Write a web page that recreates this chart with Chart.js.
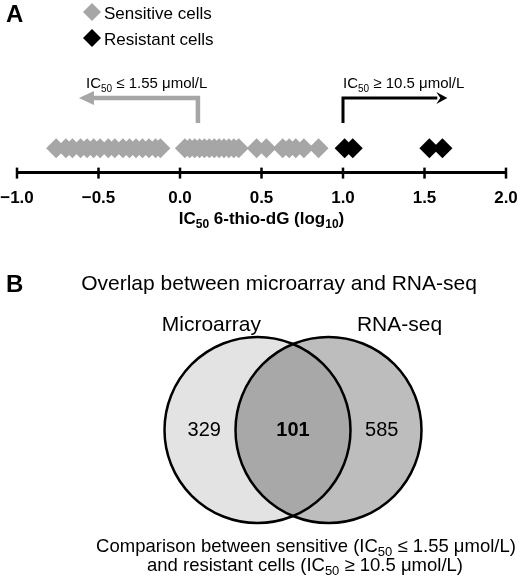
<!DOCTYPE html>
<html>
<head>
<meta charset="utf-8">
<script src="https://cdn.jsdelivr.net/npm/chart.js@4.4.1/dist/chart.umd.min.js"></script>
<style>
  html, body { margin: 0; padding: 0; background: #fff; }
  #wrap { position: relative; width: 520px; height: 588px; }
  canvas { position: absolute; left: 0; }
  #chartA { top: 0; }
  #chartB { top: 240px; }
</style>
</head>
<body>
<div id="wrap">
  <canvas id="chartA" width="520" height="240"></canvas>
  <canvas id="chartB" width="520" height="348"></canvas>
</div>
<script>
// datos
const seriesNames = ['Sensitive cells', 'Resistant cells'];
const sensitiveLog = [-0.76, -0.70, -0.66, -0.61, -0.57, -0.53, -0.49, -0.44, -0.40, -0.35,
  -0.31, -0.27, -0.23, -0.19, -0.15, -0.12, 0.03, 0.06, 0.09, 0.12, 0.15, 0.18, 0.21,
  0.24, 0.27, 0.30, 0.33, 0.36, 0.47, 0.53, 0.63, 0.67, 0.71, 0.76, 0.85];
const resistantLog = [1.01, 1.06, 1.53, 1.61];
const xTicks = [-1.0, -0.5, 0.0, 0.5, 1.0, 1.5, 2.0];
// flechas de umbral: desde -> hasta (log10)
const arrowFrom = [0.11, 1.0];
const arrowTo = [-0.62, 1.64];
const arrowText = [['≤ 1.55 μmol/L'], ['≥ 10.5 μmol/L']];

const vennSets = ['Microarray', 'RNA-seq'];
const vennCounts = [329, 101, 585]; // solo microarray, ambos, solo RNA-seq

const FONT = "'Liberation Sans', Arial, sans-serif";

// texto con subindices
function richWidth(ctx, parts) {
  let w = 0;
  parts.forEach(p => {
    ctx.font = (p.bold ? 'bold ' : '') + p.size + 'px ' + FONT;
    w += ctx.measureText(p.t).width;
  });
  return w;
}
function drawRich(ctx, parts, x, y, align) {
  const w = richWidth(ctx, parts);
  let cx = align === 'center' ? x - w / 2 : x;
  ctx.textAlign = 'left';
  ctx.textBaseline = 'alphabetic';
  parts.forEach(p => {
    ctx.font = (p.bold ? 'bold ' : '') + p.size + 'px ' + FONT;
    ctx.fillText(p.t, cx, y + (p.dy || 0));
    cx += ctx.measureText(p.t).width;
  });
}
function ic50(size, rest, bold) {
  return [
    { t: 'IC', size: size, bold: bold },
    { t: '50', size: Math.round(size * 0.68), bold: bold, dy: 4 },
    { t: rest, size: size, bold: bold }
  ];
}

// ---------- Panel A ----------
const panelA = {
  id: 'panelA',
  afterDraw(chart) {
    const ctx = chart.ctx;
    const xs = chart.scales.x;
    const axisY = chart.chartArea.bottom;
    ctx.save();
    ctx.fillStyle = '#000';
    // letra del panel
    ctx.font = 'bold 24px ' + FONT;
    ctx.textBaseline = 'alphabetic';
    ctx.fillText('A', 6, 22);

    // leyenda
    chart.data.datasets.forEach((ds, i) => {
      const cy = 12 + i * 26;
      ctx.fillStyle = ds.backgroundColor;
      ctx.beginPath();
      ctx.moveTo(92, cy - 9); ctx.lineTo(101, cy); ctx.lineTo(92, cy + 9); ctx.lineTo(83, cy);
      ctx.closePath(); ctx.fill();
      ctx.fillStyle = '#000';
      ctx.font = '17px ' + FONT;
      ctx.textBaseline = 'middle';
      ctx.fillText(ds.label, 104, cy + 2);
    });

    // marcas del eje que cruzan la linea
    ctx.strokeStyle = '#000';
    ctx.lineWidth = 2.5;
    xs.ticks.forEach(t => {
      const px = xs.getPixelForValue(t.value);
      ctx.beginPath();
      ctx.moveTo(px, axisY - 5); ctx.lineTo(px, axisY + 6);
      ctx.stroke();
    });

    // flechas
    const colors = ['#a6a6a6', '#000'];
    const widths = [4.5, 3];
    arrowFrom.forEach((v, i) => {
      const x0 = xs.getPixelForValue(v);
      const x1 = xs.getPixelForValue(arrowTo[i]);
      const dir = x1 < x0 ? -1 : 1;
      const top = 98, bottom = 123;
      ctx.strokeStyle = colors[i];
      ctx.fillStyle = colors[i];
      ctx.lineWidth = widths[i];
      ctx.lineJoin = 'miter';
      ctx.beginPath();
      ctx.moveTo(x0, bottom); ctx.lineTo(x0, top); ctx.lineTo(x1 - dir * 10, top);
      ctx.stroke();
      const hl = i === 0 ? 15 : 11, hw = i === 0 ? 7 : 6;
      ctx.beginPath();
      ctx.moveTo(x1, top);
      ctx.lineTo(x1 - dir * hl, top - hw);
      if (i === 1) ctx.lineTo(x1 - dir * (hl - 4), top);
      ctx.lineTo(x1 - dir * hl, top + hw);
      ctx.closePath(); ctx.fill();
      // etiqueta
      ctx.fillStyle = '#000';
      const lx = i === 0 ? 86 : x0;
      drawRich(ctx, ic50(15, ' ' + arrowText[i][0], false), lx, 88, 'left');
    });

    // titulo del eje x
    drawRich(ctx, [
      { t: 'IC', size: 17, bold: true },
      { t: '50', size: 12, bold: true, dy: 4 },
      { t: ' 6-thio-dG (log', size: 17, bold: true },
      { t: '10', size: 12, bold: true, dy: 4 },
      { t: ')', size: 17, bold: true }
    ], (chart.chartArea.left + chart.chartArea.right) / 2, 224, 'center');
    ctx.restore();
  }
};

new Chart(document.getElementById('chartA'), {
  type: 'scatter',
  data: {
    datasets: [
      {
        label: seriesNames[0],
        data: sensitiveLog.map(v => ({ x: v, y: 0 })),
        backgroundColor: '#a6a6a6',
        borderWidth: 0,
        pointStyle: 'rectRot',
        pointRadius: 10
      },
      {
        label: seriesNames[1],
        data: resistantLog.map(v => ({ x: v, y: 0 })),
        backgroundColor: '#000000',
        borderWidth: 0,
        pointStyle: 'rectRot',
        pointRadius: 10
      }
    ]
  },
  options: {
    responsive: false,
    animation: false,
    events: [],
    layout: { autoPadding: false, padding: { left: 17, right: 14, top: 124, bottom: 31 } },
    plugins: { legend: { display: false }, tooltip: { enabled: false } },
    scales: {
      x: {
        type: 'linear',
        min: xTicks[0],
        max: xTicks[xTicks.length - 1],
        afterBuildTicks: axis => { axis.ticks = xTicks.map(v => ({ value: v })); },
        grid: { display: false, tickLength: 16 },
        border: { display: true, color: '#000', width: 3 },
        ticks: {
          color: '#000',
          padding: 0,
          font: { family: FONT, size: 17, weight: 'bold' },
          callback: v => (v < 0 ? '\u2212' : '') + Math.abs(v).toFixed(1)
        }
      },
      y: { display: false, min: -1, max: 1 }
    }
  },
  plugins: [panelA]
});

// ---------- Panel B ----------
const VENN_R = 93;
const panelB = {
  id: 'panelB',
  afterDraw(chart) {
    const ctx = chart.ctx;
    const xs = chart.scales.x, ys = chart.scales.y;
    const cy = ys.getPixelForValue(0);
    ctx.save();
    ctx.fillStyle = '#000';
    ctx.textBaseline = 'alphabetic';
    ctx.font = 'bold 24px ' + FONT;
    ctx.fillText('B', 6, 52);
    ctx.font = '21px ' + FONT;
    ctx.textAlign = 'center';
    ctx.fillText('Overlap between microarray and RNA-seq', 279, 50);

    // nombres de conjuntos
    ctx.font = '21px ' + FONT;
    ctx.fillText(vennSets[0], xs.getPixelForValue(-2.3), 91);
    ctx.fillText(vennSets[1], xs.getPixelForValue(3.0), 91);

    // recuentos
    ctx.textBaseline = 'middle';
    const pos = [-2.5, 0, 2.5];
    vennCounts.forEach((c, i) => {
      ctx.font = (i === 1 ? 'bold ' : '') + '20px ' + FONT;
      ctx.fillText(String(c), xs.getPixelForValue(pos[i]), cy);
    });

    // pie de figura
    drawRich(ctx, [
      { t: 'Comparison between sensitive (IC', size: 18.5 },
      { t: '50', size: 13, dy: 4 },
      { t: ' ≤ 1.55 μmol/L)', size: 18.5 }
    ], 306, 312, 'center');
    drawRich(ctx, [
      { t: 'and resistant cells (IC', size: 18.5 },
      { t: '50', size: 13, dy: 4 },
      { t: ' ≥ 10.5 μmol/L)', size: 18.5 }
    ], 305, 331, 'center');
    ctx.restore();
  }
};

new Chart(document.getElementById('chartB'), {
  type: 'bubble',
  data: {
    datasets: [{
      label: 'Venn',
      data: vennSets.map((s, i) => ({ x: i * 2 - 1, y: 0, r: VENN_R })),
      backgroundColor: ['#e3e3e3', 'rgba(0,0,0,0.26)'],
      borderColor: '#000',
      borderWidth: 2.5,
      clip: false
    }]
  },
  options: {
    responsive: false,
    animation: false,
    events: [],
    layout: { autoPadding: false, padding: { left: 151, right: 85, top: 150, bottom: 118 } },
    plugins: { legend: { display: false }, tooltip: { enabled: false } },
    scales: {
      x: { display: false, min: -4, max: 4 },
      y: { display: false, min: -1, max: 1 }
    }
  },
  plugins: [panelB]
});
</script>
</body>
</html>
